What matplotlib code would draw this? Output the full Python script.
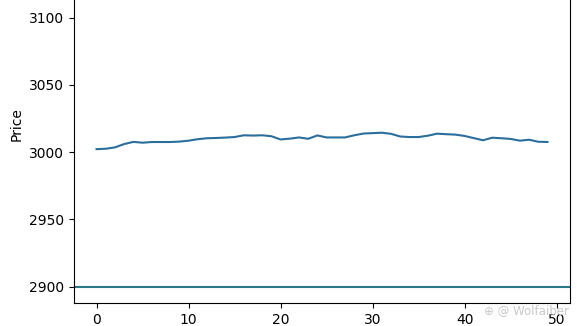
import matplotlib
matplotlib.use("Agg")
import matplotlib.pyplot as plt
import numpy as np

steps = list(range(50))
price = [3002.2, 3002.5, 3003.5, 3006.0, 3007.6, 3007.0, 3007.5, 3007.5, 3007.5, 3007.8,
         3008.5, 3009.6, 3010.3, 3010.5, 3010.8, 3011.2, 3012.5, 3012.3, 3012.5, 3011.8,
         3009.4, 3010.0, 3010.9, 3009.9, 3012.4, 3010.9, 3010.9, 3010.9, 3012.5, 3013.8,
         3014.1, 3014.4, 3013.6, 3011.6, 3011.2, 3011.2, 3012.2, 3013.7, 3013.3, 3013.0,
         3012.0, 3010.4, 3008.8, 3010.7, 3010.3, 3009.8, 3008.5, 3009.2, 3007.7, 3007.5]
baseline = 2900
yticks = [2900, 2950, 3000, 3050, 3100]
xticks = [0, 10, 20, 30, 40, 50]

W, H = 580, 326
fig = plt.figure(figsize=(W / 100, H / 100), dpi=100)

px_per_unit = 1.346
y_bottom = 2887.9
y_top = 3154.0
ax_h_px = (y_top - y_bottom) * px_per_unit
left_px, right_px, bottom_px = 74, 570, 303
ax = fig.add_axes([left_px / W, (H - bottom_px) / H, (right_px - left_px) / W, ax_h_px / H])

ax.plot(steps, price, color="#2b6e9c", lw=1.5)
ax.axhline(baseline, color="#2a7689", lw=1.5)

ax.set_xlim(-2.45, 51.45)
ax.set_ylim(y_bottom, y_top)
ax.set_yticks(yticks)
ax.set_xticks(xticks)
ax.set_ylabel("Price")

fig.text(484 / W, 1 - 311 / H, "\u2295 @ Wolfaiber", color="#c8c8c8", fontsize=8.5,
         ha="left", va="center", zorder=10)

fig.savefig("out.png", dpi=100)
